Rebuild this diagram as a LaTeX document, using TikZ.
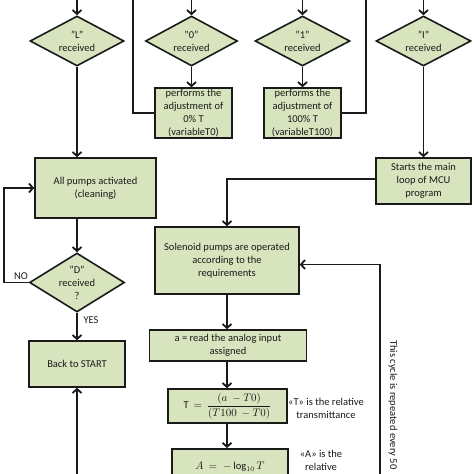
\documentclass[tikz,border=0pt]{standalone}
\usepackage{fontspec}
\setmainfont{Carlito}
\usetikzlibrary{shapes.geometric,arrows.meta}
\definecolor{boxfill}{HTML}{D7E4BD}
\definecolor{ink}{HTML}{1A1A1A}
\begin{document}
\begin{tikzpicture}[x=1pt,y=-1pt,
  every node/.style={font=\fontsize{10.5}{13}\selectfont, text=ink},
  procbox/.style={draw=ink, line width=1.6pt, fill=boxfill, align=center, inner sep=0pt},
  dia/.style={draw=ink, diamond, line width=1.6pt, fill=boxfill, inner sep=0pt},
  conn/.style={draw=ink, line width=1.8pt, -{Straight Barb[length=4pt,width=9pt]}},
  plainline/.style={draw=ink, line width=1.8pt},
  txt/.style={align=center, inner sep=0pt}]
\useasboundingbox (0,0) rectangle (474,474);
\clip (0,0) rectangle (474,474);

% diamonds
\node[dia, minimum width=94pt, minimum height=50pt] (dL) at (77,41) {};
\node[txt] (tL) at (dL.center) {"L"\\received};
\node[dia, minimum width=92pt, minimum height=50pt] (d0) at (191.5,41) {};
\node[txt] (t0) at (d0.center) {"0"\\received};
\node[dia, minimum width=95pt, minimum height=50pt] (d1) at (302.5,41) {};
\node[txt] (t1) at (d1.center) {"1"\\received};
\node[dia, minimum width=95pt, minimum height=50pt] (dI) at (423.5,41) {};
\node[txt] (tI) at (dI.center) {"I"\\received};
\node[dia, minimum width=95pt, minimum height=59pt] (dD) at (77,282.5) {};
\node[txt] (tD) at (dD.center) {"D"\\received\\?};

% boxes
\node[procbox, minimum width=77pt, minimum height=50pt] (b0) at (193.5,113) {performs the\\adjustment of\\0\% T\\(variableT0)};
\node[procbox, minimum width=77pt, minimum height=50pt] (b1) at (302.5,113) {performs the\\adjustment of\\100\% T\\(variableT100)};
\node[procbox, minimum width=121pt, minimum height=60pt] (pumps) at (95.5,188) {All pumps activated\\(cleaning)};
\node[procbox, minimum width=95pt, minimum height=46pt] (starts) at (423.5,181) {Starts the main\\loop of MCU\\program};
\node[procbox, minimum width=144pt, minimum height=67pt] (sol) at (227,260.5) {Solenoid pumps are operated\\according to the\\requirements};
\node[procbox, minimum width=96pt, minimum height=46pt] (back) at (77,364) {Back to START};
\node[procbox, minimum width=157pt, minimum height=31pt] (abox) at (228,345.5) {a = read the analog input\\assigned};
\node[procbox, minimum width=119pt, minimum height=34pt] (tbox) at (227.5,406) {$\mathrm{T}\,=\,\displaystyle\frac{(a\ -T0)}{(T100\ -T0)}$};
\node[procbox, minimum width=116pt, minimum height=36pt, anchor=north] (Abox) at (230,448) {$A\,=\;-\log_{10}T$};

% annotations
\node[txt] (noteT) at (326,408) {«T» is the relative\\transmittance};
\node[txt] (noteA) at (321,460) {«A» is the\\relative};
\node[txt, rotate=-90, anchor=west] (cycle) at (393,340) {This cycle is repeated every 50};
\node[txt] (no) at (21,276) {NO};
\node[txt] (yes) at (91,320) {YES};

% free ends
\coordinate (inL) at (77,-3);
\coordinate (in0) at (191.5,-3);
\coordinate (in1) at (302.5,-3);
\coordinate (inI) at (423.5,-3);
\coordinate (out0) at (133,-3);
\coordinate (out1) at (366,-3);
\coordinate (nocorner) at (4,282.5);
\coordinate (botback) at (77,480);
\coordinate (botloop) at (380,480);

% connectors
\draw[conn] (inL) -- (dL.north);
\draw[conn] (in0) -- (d0.north);
\draw[conn] (in1) -- (d1.north);
\draw[conn] (inI) -- (dI.north);
\draw[conn] (d0.south) -- (d0.south |- b0.north);
\draw[conn] (d1.south) -- (d1.south |- b1.north);
\draw[plainline] (b0.west) -| (out0);
\draw[plainline] (b1.east) -| (out1);
\draw[conn] (dL.south) -- (dL.south |- pumps.north);
\draw[conn] (dI.south) -- (dI.south |- starts.north);
\draw[conn] (dL.south |- pumps.south) -- (dD.north);
\draw[conn] (dD.west) -- (nocorner) |- (pumps.west);
\draw[conn] (dD.south) -- (back.north);
\draw[conn] (botback) -- (back.south);
\draw[conn] ([yshift=2pt]starts.west) -| (sol.north);
\draw[conn] (botloop) |- ([yshift=-4pt]sol.east);
\draw[conn] (sol.south) -- (sol.south |- abox.north);
\draw[conn] (sol.south |- abox.south) -- (sol.south |- tbox.north);
\draw[conn] (sol.south |- tbox.south) -- (sol.south |- Abox.north);
\end{tikzpicture}
\end{document}
